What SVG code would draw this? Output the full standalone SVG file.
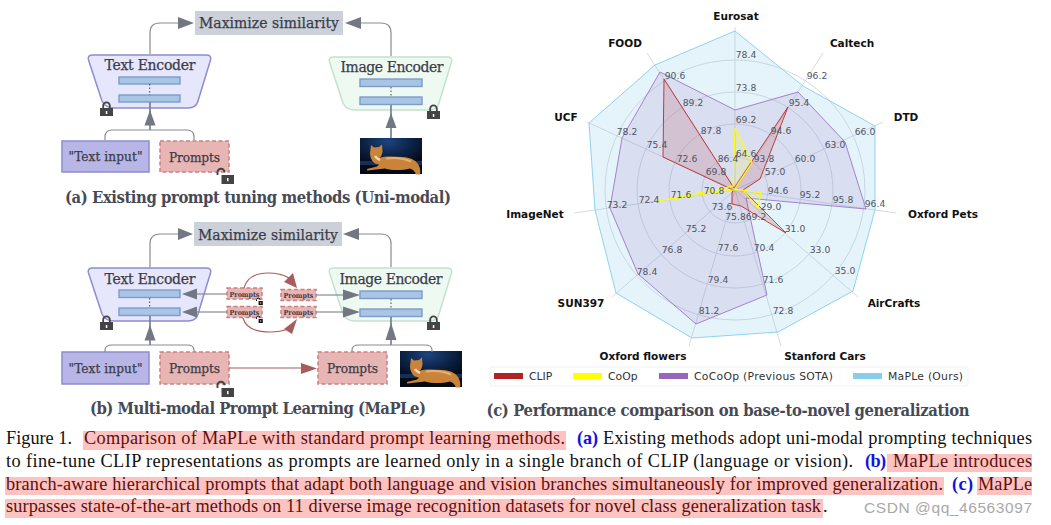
<svg xmlns="http://www.w3.org/2000/svg" xmlns:xlink="http://www.w3.org/1999/xlink" width="1051" height="525" viewBox="0 0 1051 525">
<style>
.ser{font-family:"DejaVu Serif Condensed","DejaVu Serif",serif;fill:#3a3d48;stroke:#3a3d48;stroke-width:.25;text-anchor:middle}
.enc{font-size:15.500px}
.tit{font-size:16.500px;font-weight:bold;fill:#474a55;stroke-width:0}
.pr{font-size:13.500px}
.sm{font-size:7px;font-weight:bold;stroke-width:0}
.bar{fill:#a9c5e6;stroke:#7d9cc6;stroke-width:1.400}
.dot{stroke:#444;stroke-width:1;stroke-dasharray:1.500 2;fill:none}
.tr{fill:#e6e6fd;stroke:#8d8dcd;stroke-width:1.500}
.tg{fill:#eefaf1;stroke:#c2e2cf;stroke-width:1.500}
.sim{fill:#cbd0d9}
.ti{fill:#b8b5e7;stroke:#8d8dcd;stroke-width:1.500}
.pb{fill:#e8b5b5;stroke:#cb8080;stroke-width:1.500;stroke-dasharray:4 2.500}
.ln{fill:none;stroke:#868b96;stroke-width:1.200}
.lnb{fill:none;stroke:#7b808c;stroke-width:1.700}
.hd{fill:#727783}
.rd{fill:none;stroke:#a85c5c;stroke-width:1.100}
.rh{fill:#a85c5c}
.grid{fill:none;stroke:#c8cad0;stroke-width:.7}
.tk{font-family:"DejaVu Sans",sans-serif;font-size:9.200px;fill:#50545f;text-anchor:middle;dominant-baseline:central}
.cat{font-family:"DejaVu Sans",sans-serif;font-size:10.500px;font-weight:bold;fill:#111;text-anchor:middle;dominant-baseline:central}
.lg{font-family:"DejaVu Sans",sans-serif;font-size:10.800px;fill:#333}
.cap{font-family:"Liberation Serif",serif;font-size:18.300px;fill:#111}
.hl{fill:#fdc3c1}
.ht{fill:#5e0f0f}
.bl{fill:#1212e0;font-weight:bold}
</style>
<defs>
<path id="trap" d="M5,0H118Q124,0 122.500,5L110,46Q108,53 100,53H27Q17,53 14,46L.5,5Q-1,0 5,0Z"/>
<g id="lock"><path d="M3.200,6V3.600a3.300,3.300 0 0 1 6.600,0V6" fill="none" stroke="#444" stroke-width="1.800"/><rect x="0" y="6" width="13" height="8" fill="#444"/><rect x="5.800" y="9" width="1.500" height="3" fill="#fff"/></g>
<g id="open"><path d="M1,6V3.200a3.300,3.300 0 0 1 7,0" fill="none" stroke="#444" stroke-width="1.900"/><rect x="5" y="6" width="12.500" height="9" fill="#444"/><rect x="10.500" y="9" width="1.500" height="3.200" fill="#fff"/></g>
<g id="openS"><path d="M.5,3V1.800a1.600,1.600 0 0 1 3.500,0" fill="none" stroke="#111" stroke-width="1"/><rect x="2.600" y="3" width="4.200" height="4" fill="#111"/><rect x="4.200" y="4.400" width="1" height="1.200" fill="#fff"/></g>
<radialGradient id="sky" cx=".45" cy=".1" r=".7"><stop offset="0" stop-color="#1c4480"/><stop offset=".55" stop-color="#0c2347"/><stop offset="1" stop-color="#030c18"/></radialGradient>
<g id="catimg">
<rect width="62" height="36" fill="url(#sky)"/>
<rect y="23" width="62" height="4" fill="#12305a"/>
<rect y="27" width="62" height="9" fill="#030a14"/>
<path d="M11,7l3,2.500 5,-.5 3,-2.500 .5,7c-.5,4 -2,5.500 -3,6.500 5,-2 14,-1.500 23,-1 9,.5 15,4 17,10 1,3 1,5 .5,7.500h-4c-1,-3 -3,-5 -6,-6 -8,2 -18,2 -25,0l-9,1 -8,1c-2,0 -1,-2 1,-2l8,-2 2,-2 -4,-1c-3,-2 -5,-6 -5,-10z" fill="#c9843a"/>
<path d="M26,20.500c8,-1 18,0 25,3" fill="none" stroke="#e6b273" stroke-width="2"/>
<path d="M15,18c1,2 3,3 5,4" fill="none" stroke="#f0d8b6" stroke-width="2.500"/>
</g>
</defs>
<rect width="1051" height="525" fill="#fff"/>

<g id="panel-a">
<g id="a-similarity"><rect class="sim" x="195" y="11" width="148" height="24"/><text class="ser enc" x="269" y="28" textLength="140">Maximize similarity</text></g>
<g id="a-text-encoder"><use href="#trap" class="tr" x="88" y="55"/><rect class="bar" x="119" y="77" width="61" height="7"/><rect class="bar" x="119" y="95" width="61" height="7"/><path class="dot" d="M149.700,84V95"/><text class="ser enc" x="150" y="70" textLength="91">Text Encoder</text><use href="#lock" x="100" y="102"/></g>
<g id="a-image-encoder"><use href="#trap" class="tg" x="329" y="57"/><rect class="bar" x="360" y="79" width="62" height="7.500"/><rect class="bar" x="360" y="97" width="62" height="7.500"/><path class="dot" d="M391,87V97"/><text class="ser enc" x="392" y="72" textLength="103">Image Encoder</text><use href="#lock" x="427" y="105"/></g>
<g id="a-text-input"><rect class="ti" x="62" y="141" width="87" height="31"/><text class="ser pr" x="105.500" y="161" textLength="74">"Text input"</text></g>
<g id="a-prompts"><rect class="pb" x="160" y="141" width="69" height="31"/><text class="ser pr" x="194.500" y="162" textLength="51">Prompts</text><use href="#open" x="216.500" y="169"/></g>
<g id="a-cat"><use href="#catimg" x="360" y="138"/></g>
<g id="a-connectors">
<path class="ln" d="M150,54V33Q150,23 160,23H180"/><path class="hd" d="M194,23L178,17V29Z"/>
<path class="ln" d="M391,56V33Q391,23 381,23H360"/><path class="hd" d="M345,23L361,17V29Z"/>
<path class="ln" d="M105,140V137Q105,130 112,130H187Q194,130 194,137V140"/>
<path class="lnb" d="M150,130V102"/><path class="hd" d="M150,110L144.500,125.500H155.500Z"/>
<path class="lnb" d="M391,138V105"/><path class="hd" d="M391,113L385.500,128H396.500Z"/>
</g>
<text class="ser tit" x="258" y="203" textLength="386">(a) Existing prompt tuning methods (Uni-modal)</text>
</g>

<g id="panel-b">
<g id="b-similarity"><rect class="sim" x="194" y="222" width="148" height="24"/><text class="ser enc" x="268" y="240" textLength="140">Maximize similarity</text></g>
<g id="b-text-encoder"><use href="#trap" class="tr" x="88" y="268"/><rect class="bar" x="119" y="290" width="61" height="7.500"/><rect class="bar" x="119" y="308" width="61" height="7.500"/><path class="dot" d="M149.700,298V308"/><text class="ser enc" x="150" y="284" textLength="91">Text Encoder</text><use href="#lock" x="100" y="316"/></g>
<g id="b-image-encoder"><use href="#trap" class="tg" x="329" y="268"/><rect class="bar" x="360" y="291" width="62" height="7.500"/><rect class="bar" x="360" y="309" width="62" height="7.500"/><path class="dot" d="M391,299V309"/><text class="ser enc" x="391" y="284" textLength="103">Image Encoder</text><use href="#lock" x="427" y="316"/></g>
<g id="b-p1"><rect class="pb" x="227" y="288" width="35" height="11"/><text class="ser sm" x="244.500" y="296.500">Prompts</text><use href="#openS" x="256" y="298"/></g>
<g id="b-p2"><rect class="pb" x="227" y="306.500" width="35" height="11"/><text class="ser sm" x="244.500" y="315">Prompts</text><use href="#openS" x="256" y="316"/></g>
<g id="b-p3"><rect class="pb" x="281" y="289.500" width="35" height="11"/><text class="ser sm" x="298.500" y="298">Prompts</text></g>
<g id="b-p4"><rect class="pb" x="281" y="306.500" width="35" height="11"/><text class="ser sm" x="298.500" y="315">Prompts</text></g>
<g id="b-text-input"><rect class="ti" x="62" y="352" width="87" height="32"/><text class="ser pr" x="105.500" y="373" textLength="74">"Text input"</text></g>
<g id="b-prompts-l"><rect class="pb" x="160" y="352" width="69" height="32"/><text class="ser pr" x="194.500" y="373" textLength="51">Prompts</text><use href="#open" x="216.500" y="382"/></g>
<g id="b-prompts-r"><rect class="pb" x="318" y="352" width="69" height="32"/><text class="ser pr" x="352.500" y="373" textLength="51">Prompts</text></g>
<g id="b-cat"><use href="#catimg" x="400" y="351"/></g>
<g id="b-connectors">
<path class="ln" d="M150,267V244Q150,234 160,234H179"/><path class="hd" d="M193,234L178,228V240Z"/>
<path class="ln" d="M391,267V244Q391,234 381,234H358"/><path class="hd" d="M343,234L359,228V240Z"/>
<path class="ln" d="M105,352V350Q105,345 112,345H187Q194,345 194,350V352"/>
<path class="lnb" d="M150,345V316"/><path class="hd" d="M150,325L144.500,340.500H155.500Z"/>
<path class="ln" d="M352,352V350Q352,345 359,345H425Q432,345 432,350V352"/>
<path class="lnb" d="M391,345V317"/><path class="hd" d="M391,323L385.500,340H396.500Z"/>
<path class="ln" d="M227,294H195"/><path class="hd" d="M182,294L197,288.500V299.500Z"/>
<path class="ln" d="M227,312H195"/><path class="hd" d="M182,312L197,306.500V317.500Z"/>
<path class="ln" d="M316,295H345"/><path class="hd" d="M360,295L343,289.500V300.500Z"/>
<path class="ln" d="M316,312H345"/><path class="hd" d="M360,312L343,306.500V317.500Z"/>
<path class="rd" d="M244,288C247,276 258,273 268,273C277,273 284,275 289,278"/><path class="rh" d="M297,288L284,282L293,273Z"/>
<path class="rd" d="M243,318C246,329 258,332 270,332C278,332 283,331 288,329"/><path class="rh" d="M297,319L284,329L292,334Z"/>
<path class="rd" d="M229,368H303"/><path class="rh" d="M317,368.500L301,363V374Z"/>
</g>
<text class="ser tit" x="258" y="414" textLength="336">(b) Multi-modal Prompt Learning (MaPLe)</text>
</g>

<g id="radar">
<g id="grid">
<circle class="grid" cx="735" cy="190" r="33"/><circle class="grid" cx="735" cy="190" r="66"/><circle class="grid" cx="735" cy="190" r="98"/><circle class="grid" cx="735" cy="190" r="130"/>
<path class="grid" d="M735,190V27M735,190L823,53M735,190L883,122M735,190L896,213M735,190L858,297M735,190L781,346M735,190L689,346M735,190L612,297M735,190L574,213M735,190L587,122M735,190L647,53"/>
</g>
<g id="series">
<polygon id="s-maple" points="735,31 803,86 875,126 875,210 853,291 778,332 692,338 616,293 595,210 589,123 655,65" fill="#87ceeb" fill-opacity=".22" stroke="#8ed3ee" stroke-width="1"/>
<polygon id="s-cocoop" points="735,110 798,92 845,142 866,209 746,198 767,295 696,324 638,274 610,208 622,138 660,72" fill="#9467bd" fill-opacity=".15" stroke="#9d75c6" stroke-width=".9"/>
<polygon id="s-clip" points="734,188 788,107 760,179 743,190 786,233 741,206 732,204 732,193 733,190 663,157 664,79" fill="#b22222" fill-opacity=".15" stroke="#c02a2a" stroke-width=".9"/>
<polygon id="s-coop" points="735,128 752,163 735,189 761,193 758,208 743,190 733,190 658,201 733,186 733,186" fill="#ffff00" fill-opacity=".15" stroke="#ffff00" stroke-width="1.100"/>
</g>
<g id="ticks">
<text class="tk" x="746" y="54">78.4</text><text class="tk" x="746" y="87">73.8</text><text class="tk" x="746" y="119">69.2</text><text class="tk" x="746" y="153">64.6</text>
<text class="tk" x="817" y="75">96.2</text><text class="tk" x="799" y="102">95.4</text><text class="tk" x="781" y="130">94.6</text><text class="tk" x="764" y="158">93.8</text>
<text class="tk" x="865" y="131">66.0</text><text class="tk" x="835" y="144">63.0</text><text class="tk" x="805" y="158">60.0</text><text class="tk" x="775" y="171">57.0</text>
<text class="tk" x="875" y="203">96.4</text><text class="tk" x="843" y="199">95.8</text><text class="tk" x="810" y="194">95.2</text><text class="tk" x="778" y="190">94.6</text>
<text class="tk" x="845" y="270">35.0</text><text class="tk" x="820" y="249">33.0</text><text class="tk" x="795" y="228">31.0</text><text class="tk" x="771" y="206">29.0</text>
<text class="tk" x="783" y="310">72.8</text><text class="tk" x="773" y="279">71.6</text><text class="tk" x="764" y="247">70.4</text><text class="tk" x="756" y="216">69.2</text>
<text class="tk" x="709" y="310">81.2</text><text class="tk" x="718" y="279">79.4</text><text class="tk" x="728" y="247">77.6</text><text class="tk" x="735.500" y="216">75.8</text>
<text class="tk" x="647" y="271">78.4</text><text class="tk" x="672" y="249">76.8</text><text class="tk" x="696" y="228">75.2</text><text class="tk" x="722" y="206">73.6</text>
<text class="tk" x="617" y="204">73.2</text><text class="tk" x="649" y="199">72.4</text><text class="tk" x="681" y="194">71.6</text><text class="tk" x="714" y="190">70.8</text>
<text class="tk" x="627" y="131">78.2</text><text class="tk" x="657" y="144">75.4</text><text class="tk" x="687" y="158">72.6</text><text class="tk" x="716" y="171">69.8</text>
<text class="tk" x="675" y="75">90.6</text><text class="tk" x="693" y="102">89.2</text><text class="tk" x="711" y="130">87.8</text><text class="tk" x="728" y="158">86.4</text>
</g>
<g id="categories">
<text class="cat" x="736" y="16">Eurosat</text><text class="cat" x="852" y="43">Caltech</text><text class="cat" x="906" y="117">DTD</text><text class="cat" x="943" y="214">Oxford Pets</text><text class="cat" x="894" y="303">AirCrafts</text><text class="cat" x="825" y="356">Stanford Cars</text><text class="cat" x="643" y="356">Oxford flowers</text><text class="cat" x="581" y="303">SUN397</text><text class="cat" x="535" y="214">ImageNet</text><text class="cat" x="566" y="117">UCF</text><text class="cat" x="625" y="43">FOOD</text>
</g>
<g id="legend">
<rect x="490" y="367" width="478" height="19" rx="2" fill="#fff" stroke="#eee" stroke-width=".8"/>
<rect x="494" y="373" width="29" height="6" fill="#b22222"/><text class="lg" x="529" y="380">CLIP</text>
<rect x="573" y="373" width="29" height="6" fill="#ffff00"/><text class="lg" x="608" y="380">CoOp</text>
<rect x="659" y="373" width="29" height="6" fill="#9467bd"/><text class="lg" x="694" y="380" textLength="139">CoCoOp (Previous SOTA)</text>
<rect x="853" y="373" width="29" height="6" fill="#87ceeb"/><text class="lg" x="888" y="380" textLength="75">MaPLe (Ours)</text>
</g>
<text class="ser tit" x="728" y="416" textLength="483">(c) Performance comparison on base-to-novel generalization</text>
</g>

<g id="caption">
<rect class="hl" x="83" y="431" width="483" height="19"/>
<rect class="hl" x="887" y="454" width="145" height="18"/>
<rect class="hl" x="5" y="477" width="939" height="18"/>
<rect class="hl" x="977" y="477" width="55" height="18"/>
<rect class="hl" x="5" y="499" width="818" height="19"/>
<text class="cap" x="6" y="444" textLength="66">Figure 1.</text>
<text class="cap ht" x="84" y="444" textLength="481">Comparison of MaPLe with standard prompt learning methods.</text>
<text class="cap bl" x="577" y="444" textLength="21">(a)</text>
<text class="cap" x="603" y="444" textLength="429">Existing methods adopt uni-modal prompting techniques</text>
<text class="cap" x="6" y="467" textLength="847">to fine-tune CLIP representations as prompts are learned only in a single branch of CLIP (language or vision).</text>
<text class="cap bl" x="865" y="467" textLength="21">(b)</text>
<text class="cap ht" x="893" y="467" textLength="139">MaPLe introduces</text>
<text class="cap ht" x="6" y="490" textLength="937">branch-aware hierarchical prompts that adapt both language and vision branches simultaneously for improved generalization.</text>
<text class="cap bl" x="952" y="490" textLength="21">(c)</text>
<text class="cap ht" x="978" y="490" textLength="54">MaPLe</text>
<text class="cap ht" x="6" y="512" textLength="815">surpasses state-of-the-art methods on 11 diverse image recognition datasets for novel class generalization task</text>
<text class="cap" x="823" y="512">.</text>
<text x="864" y="512.500" font-family="Liberation Sans, sans-serif" font-size="15.500" fill="#a9a9a9" textLength="168">CSDN @qq_46563097</text>
</g>
</svg>
